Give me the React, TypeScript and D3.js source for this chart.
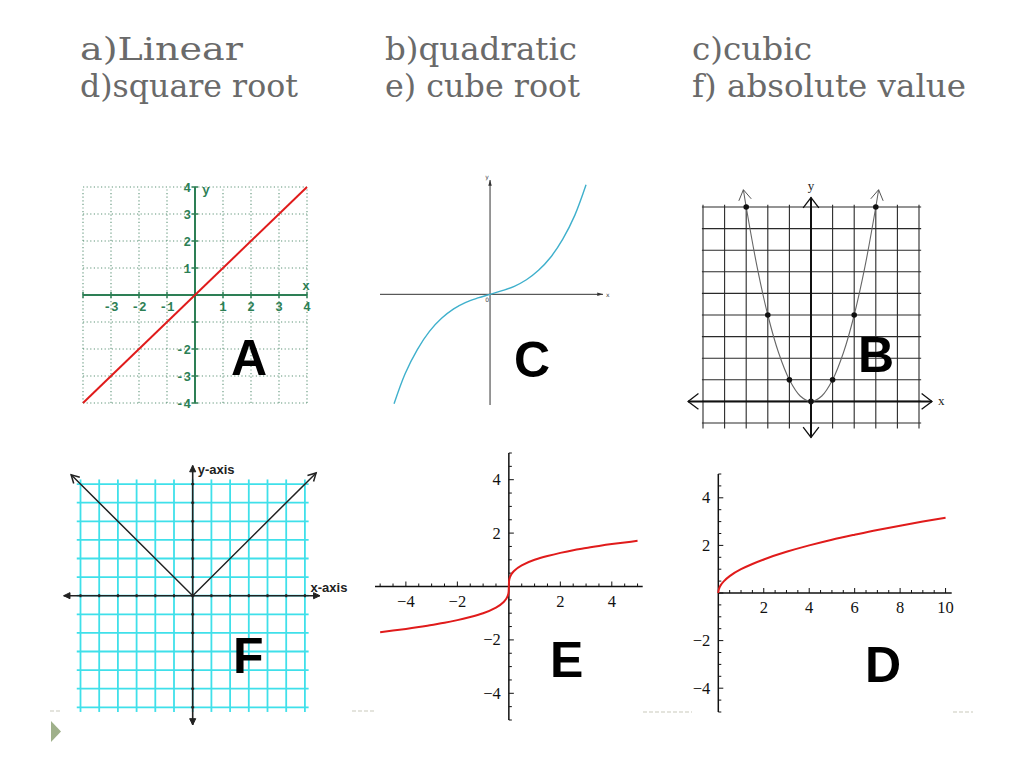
import React from 'react';
import * as d3 from 'd3';

// ---------- data ----------
const titleRow1 = ['a)Linear', 'b)quadratic', 'c)cubic'];
const titleRow2 = ['d)square root', 'e) cube root', 'f) absolute value'];
const panelLetters = ['A', 'C', 'B', 'F', 'E', 'D'];

// A: linear
const linearX = [-4, 4];
const linearY = [-4, 4];
const linearGrid = [-4, -3, -2, -1, 0, 1, 2, 3, 4];
const linearTickX = [-3, -2, -1, 1, 2, 3, 4];
const linearTickY = [-4, -3, -2, 1, 2, 3, 4];

// C: cubic
const cubicX = [-3.96, -3.5, -3, -2.5, -2, -1.5, -1, -0.5, 0, 0.5, 1, 1.5, 2, 2.5, 3, 3.5, 3.96];
const cubicY = [-4.52, -3.27, -2.28, -1.53, -0.99, -0.6, -0.33, -0.15, 0, 0.15, 0.33, 0.6, 0.99, 1.53, 2.28, 3.27, 4.52];

// B: quadratic
const quadGridX = [-5, -4, -3, -2, -1, 0, 1, 2, 3, 4, 5];
const quadGridY = [-1, 0, 1, 2, 3, 4, 5, 6, 7, 8, 9];
const quadPointX = [-3, -2, -1, 0, 1, 2, 3];
const quadPointY = [9, 4, 1, 0, 1, 4, 9];
const quadCurveX = [-3.13, -3, -2.5, -2, -1.5, -1, -0.5, 0, 0.5, 1, 1.5, 2, 2.5, 3, 3.13];
const quadCurveY = [9.8, 9, 6.25, 4, 2.25, 1, 0.25, 0, 0.25, 1, 2.25, 4, 6.25, 9, 9.8];

// F: absolute value
const absGrid = [-6, -5, -4, -3, -2, -1, 0, 1, 2, 3, 4, 5, 6];
const absX = [-6.5, 0, 6.6];
const absY = [6.5, 0, 6.6];

// E: cube root
const cbrtX = [-5, -4.5, -4, -3.5, -3, -2.5, -2, -1.5, -1, -0.5, -0.2, -0.1, -0.04, -0.008, 0, 0.008, 0.04, 0.1, 0.2, 0.5, 1, 1.5, 2, 2.5, 3, 3.5, 4, 4.5, 5];
const cbrtY = [-1.71, -1.65, -1.59, -1.52, -1.44, -1.36, -1.26, -1.14, -1, -0.79, -0.58, -0.46, -0.34, -0.2, 0, 0.2, 0.34, 0.46, 0.58, 0.79, 1, 1.14, 1.26, 1.36, 1.44, 1.52, 1.59, 1.65, 1.71];
const cbrtTickX = [-4, -2, 2, 4];
const cbrtTickY = [-4, -2, 2, 4];

// D: square root
const sqrtX = [0, 0.005, 0.03, 0.1, 0.25, 0.5, 1, 1.5, 2, 3, 4, 5, 6, 7, 8, 9, 10];
const sqrtY = [0, 0.07, 0.17, 0.32, 0.5, 0.71, 1, 1.22, 1.41, 1.73, 2, 2.24, 2.45, 2.65, 2.83, 3, 3.16];
const sqrtTickX = [2, 4, 6, 8, 10];
const sqrtTickY = [-4, -2, 2, 4];

// ---------- helpers ----------
const fmt = (v: number) => (v < 0 ? '\u2212' + Math.abs(v) : String(v));

function chevron(tx: number, ty: number, ang: number, len: number, spread: number) {
  const a1 = ang + Math.PI - spread;
  const a2 = ang + Math.PI + spread;
  return `M${tx + len * Math.cos(a1)},${ty + len * Math.sin(a1)}L${tx},${ty}L${tx + len * Math.cos(a2)},${ty + len * Math.sin(a2)}`;
}
function triangle(tx: number, ty: number, ang: number, len: number, spread: number) {
  return chevron(tx, ty, ang, len, spread) + 'Z';
}

const RED = '#e01b1b';
const GREEN = '#2d7f55';

function PanelA() {
  const x = d3.scaleLinear().domain([-4, 4]).range([83, 307]);
  const y = d3.scaleLinear().domain([-4, 4]).range([403, 187]);
  const line = d3.line<number>().x((d) => x(d)).y((_, i) => y(linearY[i]));
  return (
    <g>
      {linearGrid.map((v) => (
        <g key={'g' + v}>
          <line x1={x(v)} x2={x(v)} y1={y(-4)} y2={y(4)} stroke="#5f9479" strokeWidth={1.1} strokeDasharray="1.2,2.4" />
          <line y1={y(v)} y2={y(v)} x1={x(-4)} x2={x(4)} stroke="#5f9479" strokeWidth={1.1} strokeDasharray="1.2,2.4" />
        </g>
      ))}
      <line x1={x(-4)} x2={x(4)} y1={y(0)} y2={y(0)} stroke={GREEN} strokeWidth={2} />
      <line x1={x(0)} x2={x(0)} y1={y(-4)} y2={y(4)} stroke={GREEN} strokeWidth={2} />
      {linearGrid.map((v) => (
        <g key={'t' + v}>
          <line x1={x(v)} x2={x(v)} y1={y(0) - 3} y2={y(0) + 3} stroke={GREEN} strokeWidth={1.5} />
          <line y1={y(v)} y2={y(v)} x1={x(0) - 3} x2={x(0) + 3} stroke={GREEN} strokeWidth={1.5} />
        </g>
      ))}
      {linearTickX.map((v) => (
        <text key={'lx' + v} x={x(v)} y={y(0) + 16} textAnchor="middle" fontFamily="Liberation Mono" fontWeight="bold" fontSize={12.5} fill={GREEN}>
          {v < 0 ? '-' + Math.abs(v) : v}
        </text>
      ))}
      {linearTickY.map((v) => (
        <text key={'ly' + v} x={x(0) - 4} y={y(v) + 4.5} textAnchor="end" fontFamily="Liberation Mono" fontWeight="bold" fontSize={12.5} fill={GREEN}>
          {v < 0 ? '-' + Math.abs(v) : v}
        </text>
      ))}
      <text x={x(4) - 1} y={y(0) - 5} textAnchor="middle" fontFamily="Liberation Mono" fontWeight="bold" fontSize={12.5} fill={GREEN}>x</text>
      <text x={x(0) + 11} y={y(4) + 7} textAnchor="middle" fontFamily="Liberation Mono" fontWeight="bold" fontSize={12.5} fill={GREEN}>y</text>
      <path d={line(linearX) || ''} fill="none" stroke={RED} strokeWidth={2} />
    </g>
  );
}

function PanelC() {
  const x = d3.scaleLinear().domain([-4.54, 4.66]).range([380, 603]);
  const y = d3.scaleLinear().domain([-4.57, 4.72]).range([405, 180]);
  const line = d3.line<number>().x((d) => x(d)).y((_, i) => y(cubicY[i])).curve(d3.curveCatmullRom);
  return (
    <g>
      <line x1={x(-4.54)} x2={x(4.66)} y1={y(0)} y2={y(0)} stroke="#333" strokeWidth={1} />
      <line x1={x(0)} x2={x(0)} y1={y(-4.57)} y2={y(4.72)} stroke="#333" strokeWidth={1} />
      <path d={triangle(x(4.66), y(0), 0, 6, 0.3)} fill="#333" />
      <path d={triangle(x(0), y(4.72), -Math.PI / 2, 6, 0.3)} fill="#333" />
      <text x={x(4.66) + 3} y={y(0) + 3} fontSize={6} fontFamily="DejaVu Sans" fill="#444">x</text>
      <text x={x(0) - 3} y={y(4.72) - 1} fontSize={6} fontFamily="DejaVu Sans" fill="#444" textAnchor="middle">y</text>
      <text x={x(0) - 3} y={y(0) + 8} fontSize={6} fontFamily="DejaVu Sans" fill="#444" textAnchor="middle">0</text>
      <path d={line(cubicX) || ''} fill="none" stroke="#3fb0cc" strokeWidth={1.4} />
    </g>
  );
}

function PanelB() {
  const x = d3.scaleLinear().domain([-5, 5]).range([703, 919]);
  const y = d3.scaleLinear().domain([-1, 9]).range([423, 207]);
  const curve = d3.line<number>().x((d) => x(d)).y((_, i) => y(quadCurveY[i])).curve(d3.curveCatmullRom);
  const n = quadCurveX.length;
  const angL = Math.atan2(y(quadCurveY[0]) - y(quadCurveY[1]), x(quadCurveX[0]) - x(quadCurveX[1]));
  const angR = Math.atan2(y(quadCurveY[n - 1]) - y(quadCurveY[n - 2]), x(quadCurveX[n - 1]) - x(quadCurveX[n - 2]));
  return (
    <g>
      {quadGridX.map((v) => (
        <line key={'vx' + v} x1={x(v)} x2={x(v)} y1={y(9.1)} y2={y(-1.25)} stroke="#2a2a2a" strokeWidth={1.1} />
      ))}
      {quadGridY.map((v) => (
        <line key={'hy' + v} y1={y(v)} y2={y(v)} x1={x(-5.05)} x2={x(5.1)} stroke="#2a2a2a" strokeWidth={1.1} />
      ))}
      <line x1={x(-5.69)} x2={x(5.6)} y1={y(0)} y2={y(0)} stroke="#111" strokeWidth={2} />
      <line x1={x(0)} x2={x(0)} y1={y(-1.67)} y2={y(9.44)} stroke="#111" strokeWidth={2} />
      <path d={chevron(x(-5.69), y(0), Math.PI, 13, 0.65)} fill="none" stroke="#111" strokeWidth={1.3} />
      <path d={chevron(x(5.6), y(0), 0, 13, 0.65)} fill="none" stroke="#111" strokeWidth={1.3} />
      <path d={chevron(x(0), y(9.44), -Math.PI / 2, 13, 0.65)} fill="none" stroke="#111" strokeWidth={1.3} />
      <path d={chevron(x(0), y(-1.67), Math.PI / 2, 13, 0.65)} fill="none" stroke="#111" strokeWidth={1.3} />
      <text x={x(5.6) + 6} y={y(0) + 4} fontSize={13} fontFamily="Liberation Serif" fill="#222">x</text>
      <text x={x(0)} y={y(9.44) - 7} fontSize={13} fontFamily="Liberation Serif" fill="#222" textAnchor="middle">y</text>
      <path d={curve(quadCurveX) || ''} fill="none" stroke="#666" strokeWidth={1.1} />
      <path d={chevron(x(quadCurveX[0]), y(quadCurveY[0]), angL, 12, 0.55)} fill="none" stroke="#555" strokeWidth={1} />
      <path d={chevron(x(quadCurveX[n - 1]), y(quadCurveY[n - 1]), angR, 12, 0.55)} fill="none" stroke="#555" strokeWidth={1} />
      {quadPointX.map((v, i) => (
        <circle key={'p' + v} cx={x(v)} cy={y(quadPointY[i])} r={2.8} fill="#111" />
      ))}
    </g>
  );
}

function PanelF() {
  const x = d3.scaleLinear().domain([-6, 6]).range([80.5, 304.9]);
  const y = d3.scaleLinear().domain([-6, 6]).range([707.3, 484.1]);
  const line = d3.line<number>().x((d) => x(d)).y((_, i) => y(absY[i]));
  const angL = Math.atan2(y(absY[0]) - y(absY[1]), x(absX[0]) - x(absX[1]));
  const angR = Math.atan2(y(absY[2]) - y(absY[1]), x(absX[2]) - x(absX[1]));
  return (
    <g>
      {absGrid.map((v) => (
        <g key={'fg' + v}>
          <line x1={x(v)} x2={x(v)} y1={y(6.25)} y2={y(-6.25)} stroke="#3fe0ea" strokeWidth={1.8} />
          <line y1={y(v)} y2={y(v)} x1={x(-6.2)} x2={x(6.2)} stroke="#3fe0ea" strokeWidth={1.8} />
        </g>
      ))}
      <line x1={x(-6.9)} x2={x(6.8)} y1={y(0)} y2={y(0)} stroke="#222" strokeWidth={1.6} />
      <line x1={x(0)} x2={x(0)} y1={y(7.0)} y2={y(-6.95)} stroke="#222" strokeWidth={1.6} />
      <path d={triangle(x(-6.9), y(0), Math.PI, 7, 0.45)} fill="#222" stroke="#222" strokeWidth={1} />
      <path d={triangle(x(6.8), y(0), 0, 7, 0.45)} fill="#222" stroke="#222" strokeWidth={1} />
      <path d={triangle(x(0), y(7.0), -Math.PI / 2, 7, 0.45)} fill="#222" stroke="#222" strokeWidth={1} />
      <path d={triangle(x(0), y(-6.95), Math.PI / 2, 7, 0.45)} fill="#222" stroke="#222" strokeWidth={1} />
      {absGrid.map((v) => (
        <g key={'ft' + v}>
          <line x1={x(v)} x2={x(v)} y1={y(0) - 1.5} y2={y(0) + 1.5} stroke="#222" strokeWidth={2} />
          <line y1={y(v)} y2={y(v)} x1={x(0) - 1.5} x2={x(0) + 1.5} stroke="#222" strokeWidth={2} />
        </g>
      ))}
      <text x={x(0) + 5} y={y(7.0) + 8} fontSize={13} fontWeight="bold" fontFamily="Liberation Sans" fill="#222">y-axis</text>
      <text x={x(6.3)} y={y(0) - 4} fontSize={13} fontWeight="bold" fontFamily="Liberation Sans" fill="#222">x-axis</text>
      <path d={line(absX) || ''} fill="none" stroke="#222" strokeWidth={1.5} />
      <path d={chevron(x(absX[0]), y(absY[0]), angL, 9, 0.5)} fill="none" stroke="#222" strokeWidth={1.5} />
      <path d={chevron(x(absX[2]), y(absY[2]), angR, 9, 0.5)} fill="none" stroke="#222" strokeWidth={1.5} />
    </g>
  );
}

function MathAxes(props: {
  x: d3.ScaleLinear<number, number>;
  y: d3.ScaleLinear<number, number>;
  xr: [number, number];
  yr: [number, number];
  xMinor: number[];
  yMinor: number[];
  xLabels: number[];
  yLabels: number[];
}) {
  const { x, y, xr, yr, xMinor, yMinor, xLabels, yLabels } = props;
  const y0 = y(0);
  const x0 = x(0);
  return (
    <g>
      <line x1={x(xr[0])} x2={x(xr[1])} y1={y0} y2={y0} stroke="#111" strokeWidth={1.5} />
      <line x1={x0} x2={x0} y1={y(yr[0])} y2={y(yr[1])} stroke="#111" strokeWidth={1.5} />
      {xMinor.map((v) => {
        const major = Math.abs(v - Math.round(v)) < 1e-6 && Math.round(v) % 2 === 0;
        return <line key={'xm' + v} x1={x(v)} x2={x(v)} y1={y0} y2={y0 - (major ? 5 : 3)} stroke="#111" strokeWidth={1} />;
      })}
      {yMinor.map((v) => {
        const major = Math.abs(v - Math.round(v)) < 1e-6 && Math.round(v) % 2 === 0;
        return <line key={'ym' + v} y1={y(v)} y2={y(v)} x1={x0} x2={x0 + (major ? 5 : 3)} stroke="#111" strokeWidth={1} />;
      })}
      {xLabels.map((v) => (
        <text key={'xl' + v} x={x(v)} y={y0 + 20} textAnchor="middle" fontFamily="Liberation Serif" fontSize={16.5} fill="#111">
          {fmt(v)}
        </text>
      ))}
      {yLabels.map((v) => (
        <text key={'yl' + v} x={x0 - 8} y={y(v) + 5.5} textAnchor="end" fontFamily="Liberation Serif" fontSize={16.5} fill="#111">
          {fmt(v)}
        </text>
      ))}
    </g>
  );
}

function PanelE() {
  const x = d3.scaleLinear().domain([-5.2, 5.2]).range([375, 642.7]);
  const y = d3.scaleLinear().domain([-5, 5]).range([720, 453]);
  const line = d3.line<number>().x((d) => x(d)).y((_, i) => y(cbrtY[i])).curve(d3.curveMonotoneY);
  const minor = d3.range(-5, 5.01, 0.5);
  return (
    <g>
      <MathAxes x={x} y={y} xr={[-5.2, 5.2]} yr={[-5, 5]} xMinor={minor} yMinor={minor} xLabels={cbrtTickX} yLabels={cbrtTickY} />
      <path d={line(cbrtX) || ''} fill="none" stroke={RED} strokeWidth={2} />
    </g>
  );
}

function PanelD() {
  const x = d3.scaleLinear().domain([0, 10.27]).range([718.3, 951.7]);
  const y = d3.scaleLinear().domain([-5, 5]).range([712, 474]);
  const line = d3.line<number>().x((d) => x(d)).y((_, i) => y(sqrtY[i])).curve(d3.curveMonotoneY);
  const minorX = d3.range(0.5, 10.01, 0.5);
  const minorY = d3.range(-5, 5.01, 0.5);
  return (
    <g>
      <MathAxes x={x} y={y} xr={[0, 10.27]} yr={[-5, 5]} xMinor={minorX} yMinor={minorY} xLabels={sqrtTickX} yLabels={sqrtTickY} />
      <path d={line(sqrtX) || ''} fill="none" stroke={RED} strokeWidth={2} />
    </g>
  );
}

const titleCols = [80, 385, 692];
const titleW1 = [163, 192, 120];
const titleW2 = [218, 195, 274];
const letterPos: [number, number][] = [
  [231, 375],
  [514, 377],
  [858, 372],
  [233, 673],
  [550, 677],
  [865, 682],
];

export default function App() {
  return (
    <svg width={1024} height={768} style={{ position: 'absolute', left: 0, top: 0, background: '#fff' }}>
      <rect width={1024} height={768} fill="#fff" />
      {titleRow1.map((t, i) => (
        <text key={'t1' + i} x={titleCols[i]} y={60} fontFamily="DejaVu Serif" fontSize={31} fill="#6a6a6a" textLength={titleW1[i]} lengthAdjust="spacingAndGlyphs">
          {t}
        </text>
      ))}
      {titleRow2.map((t, i) => (
        <text key={'t2' + i} x={titleCols[i]} y={97} fontFamily="DejaVu Serif" fontSize={31} fill="#6a6a6a" textLength={titleW2[i]} lengthAdjust="spacingAndGlyphs">
          {t}
        </text>
      ))}
      <PanelA />
      <PanelC />
      <PanelB />
      <PanelF />
      <PanelE />
      <PanelD />
      {panelLetters.map((l, i) => (
        <text key={'L' + l} x={letterPos[i][0]} y={letterPos[i][1]} fontFamily="Liberation Sans" fontWeight="bold" fontSize={50} fill="#000">
          {l}
        </text>
      ))}
      <g stroke="#c9c9bb" strokeWidth={1} strokeDasharray="4,2">
        <line x1={50} x2={60} y1={711} y2={711} />
        <line x1={352} x2={374} y1={711} y2={711} />
        <line x1={643} x2={692} y1={712} y2={712} />
        <line x1={953} x2={973} y1={712} y2={712} />
      </g>
      <polygon points="51,721 61,731.5 51,742" fill="#9fb08a" />
    </svg>
  );
}
